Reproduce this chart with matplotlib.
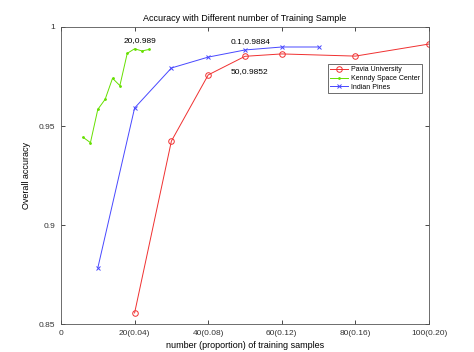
import matplotlib.pyplot as plt

pavia_x = [20, 30, 40, 50, 60, 80, 100]
pavia_acc = [0.8556, 0.9424, 0.9758, 0.9852, 0.9864, 0.9853, 0.9914]

ksc_x = [6, 8, 10, 12, 14, 16, 18, 20, 22, 24]
ksc_acc = [0.9443, 0.9416, 0.9584, 0.9635, 0.9741, 0.9704, 0.9867, 0.989, 0.9879, 0.9887]

indian_x = [10, 20, 30, 40, 50, 60, 70]
indian_acc = [0.8783, 0.9591, 0.9793, 0.9848, 0.9884, 0.9899, 0.9899]

xticks = [0, 20, 40, 60, 80, 100]
xtick_labels = ["0", "20(0.04)", "40(0.08)", "60(0.12)", "80(0.16)", "100(0.20)"]
yticks = [0.85, 0.9, 0.95, 1.0]
ytick_labels = ["0.85", "0.9", "0.95", "1"]

plt.rcParams["font.family"] = ["Liberation Sans", "DejaVu Sans"]
plt.rcParams["font.size"] = 6

fig = plt.figure(figsize=(4.74, 3.52), dpi=100)
ax = fig.add_axes([0.1287, 0.0795, 0.7764, 0.8438])

ax.plot(pavia_x, pavia_acc, color="#f03030", marker="o", markersize=4,
        markerfacecolor="none", markeredgewidth=0.7, linewidth=0.7,
        label="Pavia University")
ax.plot(ksc_x, ksc_acc, color="#66e000", marker=".", markersize=2,
        linewidth=0.7, label="Kenndy Space Center")
ax.plot(indian_x, indian_acc, color="#4848ff", marker="x", markersize=2.5,
        markeredgewidth=0.7, linewidth=0.7, label="Indian Pines")

ax.text(17, 0.9925, "20,0.989", fontsize=6)
ax.text(46, 0.9918, "0.1,0.9884", fontsize=6)
ax.text(46, 0.9767, "50,0.9852", fontsize=6)

ax.set_xlim(0, 100)
ax.set_ylim(0.85, 1.0)
ax.set_xticks(xticks)
ax.set_xticklabels(xtick_labels)
ax.set_yticks(yticks)
ax.set_yticklabels(ytick_labels)
ax.tick_params(direction="in", top=True, right=True, length=3, width=0.5, pad=4,
               labelcolor="#333333")
for s in ax.spines.values():
    s.set_linewidth(0.6)
    s.set_color("#555555")

ax.set_title("Accuracy with Different number of Training Sample", fontsize=6.5, pad=4)
ax.set_xlabel("number (proportion) of training samples", fontsize=6.5, labelpad=3)
ax.set_ylabel("Overall accuracy", fontsize=6.5, labelpad=6)

leg = ax.legend(loc="upper right", bbox_to_anchor=(0.98, 0.875), fontsize=5,
                fancybox=False, framealpha=1, edgecolor="#333333",
                borderpad=0.3, handlelength=2.6, handletextpad=0.4,
                labelspacing=0.25, borderaxespad=0)
leg.get_frame().set_linewidth(0.5)

fig.savefig("out.png", dpi=100)
